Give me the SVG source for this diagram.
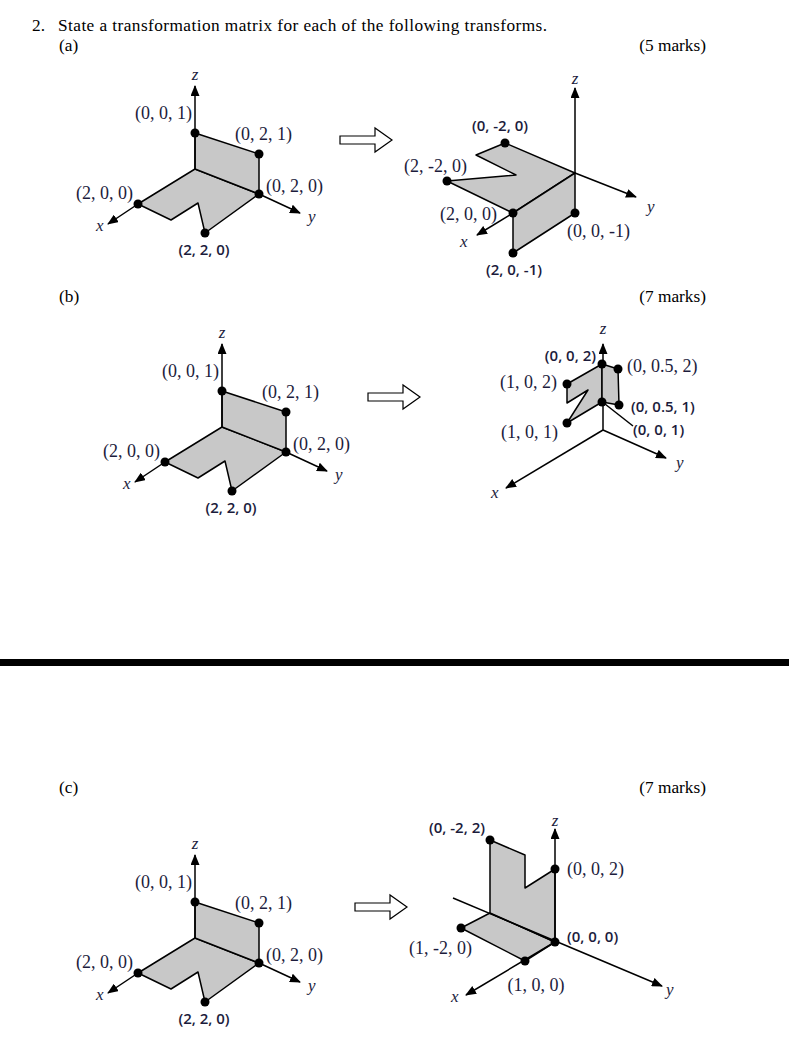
<svg xmlns="http://www.w3.org/2000/svg" width="789" height="1046" viewBox="0 0 789 1046">
<style>
.t{font-family:"Liberation Serif",serif;font-size:17.3px;fill:#000}
.l{font-family:"Liberation Serif",serif;font-size:18px;fill:#1c1c3c}
.s{font-family:"Open Sans","Liberation Sans",sans-serif;font-size:15px;font-weight:600;fill:#1c1c3c}
.ax{font-family:"Liberation Serif",serif;font-size:17px;font-style:italic;fill:#1c1c3c}
.ln{stroke:#000;stroke-width:1.5;fill:none}
.sh{fill:#c8c8c8;stroke:#000;stroke-width:1.5;stroke-linejoin:round}
.blk{fill:#fff;stroke:#000;stroke-width:1.2}
</style>
<defs>
<marker id="ar" markerWidth="11" markerHeight="9" refX="10" refY="4.5" orient="auto" markerUnits="userSpaceOnUse"><path d="M0,0 L11,4.5 L0,9 z" fill="#000"/></marker>
<g id="left">
<polygon class="sh" points="195,169 259,194 205,233 198,203 171,220 138,204"/>
<polygon class="sh" points="195,133 259,154 259,194 195,169"/>
<line class="ln" x1="195" y1="169" x2="195" y2="86" marker-end="url(#ar)"/>
<line class="ln" x1="259" y1="194" x2="300" y2="213" marker-end="url(#ar)"/>
<line class="ln" x1="138" y1="204" x2="108" y2="224" marker-end="url(#ar)"/>
<circle cx="195" cy="133" r="4.5"/><circle cx="259" cy="154" r="4.5"/><circle cx="259" cy="194" r="4.5"/>
<circle cx="138" cy="204" r="4.5"/><circle cx="205" cy="233" r="4.5"/>
<text class="ax" x="195" y="80" text-anchor="middle">z</text>
<text class="ax" x="96" y="231">x</text>
<text class="ax" x="308" y="222">y</text>
<text class="l" x="192" y="119" text-anchor="end">(0, 0, 1)</text>
<text class="l" x="235" y="140">(0, 2, 1)</text>
<text class="l" x="266" y="192">(0, 2, 0)</text>
<text class="l" x="133" y="199" text-anchor="end">(2, 0, 0)</text>
<text class="s" x="204" y="255" text-anchor="middle">(2, 2, 0)</text>
</g>
<path id="blk" d="M0,8 H35 V0 L52,12 L35,24 V16 H0 Z"/>
</defs>
<text class="t" x="32" y="31">2.</text>
<text class="t" x="58" y="31" textLength="489" lengthAdjust="spacing">State a transformation matrix for each of the following transforms.</text>
<text class="t" x="59" y="51">(a)</text>
<text class="t" x="706" y="51" text-anchor="end">(5 marks)</text>
<text class="t" x="59" y="302">(b)</text>
<text class="t" x="706" y="302" text-anchor="end">(7 marks)</text>
<text class="t" x="59" y="793">(c)</text>
<text class="t" x="706" y="793" text-anchor="end">(7 marks)</text>
<rect x="0" y="659" width="789" height="7" fill="#000"/>

<g id="a-left"><use href="#left"/></g>
<g id="a-arrow"><use href="#blk" class="blk" x="340" y="128"/></g>
<g id="a-right">
<polygon class="sh" points="505,143 575,173 513,213 447,181 516,175 476,155"/>
<polygon class="sh" points="513,213 575,173 575,213 513,253"/>
<line class="ln" x1="575" y1="173" x2="575" y2="88" marker-end="url(#ar)"/>
<line class="ln" x1="575" y1="173" x2="636" y2="197" marker-end="url(#ar)"/>
<line class="ln" x1="513" y1="213" x2="477" y2="235" marker-end="url(#ar)"/>
<circle cx="505" cy="143" r="4.5"/><circle cx="447" cy="181" r="4.5"/><circle cx="513" cy="213" r="4.5"/>
<circle cx="575" cy="213" r="4.5"/><circle cx="513" cy="253" r="4.5"/>
<text class="ax" x="575" y="84" text-anchor="middle">z</text>
<text class="ax" x="460" y="247">x</text>
<text class="ax" x="647" y="212">y</text>
<text class="s" x="500" y="131" text-anchor="middle">(0, -2, 0)</text>
<text class="l" x="467" y="172" text-anchor="end">(2, -2, 0)</text>
<text class="l" x="497" y="220" text-anchor="end">(2, 0, 0)</text>
<text class="l" x="567" y="237">(0, 0, -1)</text>
<text class="s" x="514" y="275" text-anchor="middle">(2, 0, -1)</text>
</g>

<g id="b-left"><use href="#left" x="27" y="258"/></g>
<g id="b-arrow"><use href="#blk" class="blk" x="368" y="385"/></g>
<g id="b-right">
<line class="ln" x1="603" y1="430" x2="603" y2="344" marker-end="url(#ar)"/>
<line class="ln" x1="603" y1="430" x2="666" y2="458" marker-end="url(#ar)"/>
<line class="ln" x1="603" y1="430" x2="506" y2="488" marker-end="url(#ar)"/>
<polygon class="sh" points="602,364 567,384 567,403 588,390 567,423 602,402"/>
<polygon class="sh" points="602,364 618,369 619,405 602,402"/>
<line class="ln" x1="605" y1="404" x2="633" y2="426" stroke-width="1"/>
<circle cx="602" cy="364" r="4.5"/><circle cx="618" cy="369" r="4.5"/><circle cx="567" cy="384" r="4.5"/>
<circle cx="567" cy="423" r="4.5"/><circle cx="602" cy="402" r="4.5"/><circle cx="619" cy="405" r="4.5"/>
<text class="ax" x="603" y="334" text-anchor="middle">z</text>
<text class="ax" x="491" y="498">x</text>
<text class="ax" x="676" y="468">y</text>
<text class="s" x="596" y="361" text-anchor="end">(0, 0, 2)</text>
<text class="l" x="627" y="372">(0, 0.5, 2)</text>
<text class="l" x="557" y="388" text-anchor="end">(1, 0, 2)</text>
<text class="s" x="631" y="412">(0, 0.5, 1)</text>
<text class="l" x="558" y="438" text-anchor="end">(1, 0, 1)</text>
<text class="s" x="633" y="435">(0, 0, 1)</text>
</g>

<g id="c-left"><use href="#left" x="0" y="769"/></g>
<g id="c-arrow"><use href="#blk" class="blk" x="355" y="895"/></g>
<g id="c-right">
<polygon class="sh" points="490,913 555,942 525,961 461,928"/>
<polygon class="sh" points="490,840 525,855 525,888 555,869 555,942 490,913"/>
<line class="ln" x1="555" y1="942" x2="555" y2="829" marker-end="url(#ar)"/>
<line class="ln" x1="453" y1="898" x2="662" y2="986" marker-end="url(#ar)"/>
<line class="ln" x1="555" y1="942" x2="466" y2="995" marker-end="url(#ar)"/>
<circle cx="490" cy="840" r="4.5"/><circle cx="555" cy="869" r="4.5"/><circle cx="555" cy="942" r="4.5"/>
<circle cx="461" cy="928" r="4.5"/><circle cx="525" cy="961" r="4.5"/>
<text class="ax" x="555" y="826" text-anchor="middle">z</text>
<text class="ax" x="451" y="1002">x</text>
<text class="ax" x="666" y="995">y</text>
<text class="s" x="457" y="833" text-anchor="middle">(0, -2, 2)</text>
<text class="l" x="567" y="875">(0, 0, 2)</text>
<text class="s" x="567" y="942">(0, 0, 0)</text>
<text class="l" x="472" y="954" text-anchor="end">(1, -2, 0)</text>
<text class="l" x="536" y="991" text-anchor="middle">(1, 0, 0)</text>
</g>
</svg>
